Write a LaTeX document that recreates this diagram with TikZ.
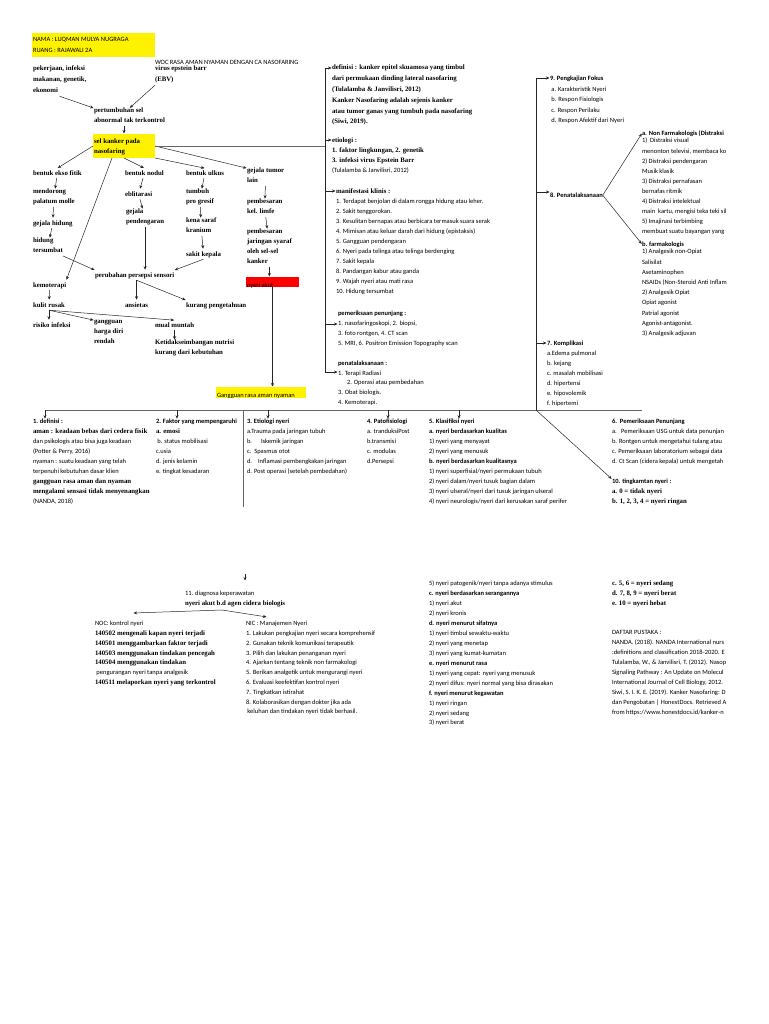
\documentclass[tikz,border=0pt]{standalone}
\usepackage{fontspec}
\setmainfont{Carlito}
\newfontfamily\bsf{Liberation Serif}
\usetikzlibrary{arrows.meta}
\newcommand\bsr[1]{{\bsf\bfseries\fontsize{6.8}{10}\selectfont #1}}
\begin{document}
\begin{tikzpicture}[x=1pt,y=-1pt,
  t/.style={anchor=north west,inner sep=0pt,outer sep=0pt,align=left,yshift=1.8pt,
            font=\fontsize{6.5}{10}\selectfont,execute at begin node=\strut},
  tb/.style={t,font=\fontsize{6.5}{10}\selectfont\bfseries},
  sb/.style={t,font=\bsf\bfseries\fontsize{6.8}{10}\selectfont},
  box/.style={anchor=north west,inner sep=0pt,outer sep=0pt},
  ar/.style={-{Stealth[length=3.5pt,width=3pt]},line width=0.5pt,black!85,shorten >=0.5pt},
  ln/.style={line width=0.8pt,black!85},
  lt/.style={line width=0.5pt,black!60}
]
\fill[white] (0,0) rectangle (768,1024);
\useasboundingbox (0,0) rectangle (768,1024);

% ---------------- header ----------------
\fill[yellow] (32,33) rectangle (155,57);
\node[t,font=\fontsize{6.5}{11}\selectfont] (nama) at (33,39) {NAMA : LUQMAN MULYA NUGRAGA\\RUANG : RAJAWALI 2A};
\node[t] (judul) at (155,59) {WOC RASA AMAN NYAMAN DENGAN CA NASOFARING};
\node[sb,font=\bsf\bfseries\fontsize{6.8}{11}\selectfont] (pek) at (33,68) {pekerjaan, infeksi\\makanan, genetik,\\ekonomi};
\node[sb,font=\bsf\bfseries\fontsize{6.8}{11}\selectfont] (ebv) at (155,68) {virus epstein barr\\(EBV)};
\node[sb] (pert) at (94,110) {pertumbuhan sel\\abnormal tak terkontrol};
\node[box,fill=yellow,minimum width=62pt,minimum height=24pt] (kanker) at (93,134) {};
\node[sb] (kankert) at (94,141) {sel kanker pada\\nasofaring};

\draw[ar] (pek.south) -- (pert.north west);
\draw[ar] (ebv.south west) -- (pert.north);
\draw[ar] (pert.south -| kanker.north) -- (kanker.north);

% ---------------- left cluster ----------------
\node[sb] (ekso) at (33,170) {bentuk ekso fitik};
\node[sb] (nodul) at (125,170) {bentuk nodul};
\node[sb] (ulkus) at (186,170) {bentuk ulkus};
\node[sb] (gtumor) at (247,170) {gejala tumor\\lain};
\node[sb] (mendorong) at (33,191) {mendorong\\palatum molle};
\node[sb] (ghid) at (33,220) {gejala hidung};
\node[sb] (htersumbat) at (33,240) {hidung\\tersumbat};
\node[sb] (ebli) at (125,191) {eblitarasi};
\node[sb] (gpend) at (126,211) {gejala\\pendengaran};
\node[sb] (tumbuh) at (186,191) {tumbuh\\pro gresif};
\node[sb] (kena) at (186,220) {kena saraf\\kranium};
\node[sb] (sakit) at (186,251) {sakit kepala};
\node[sb] (pkel) at (247,201) {pembesaran\\kel. limfe};
\node[sb] (pjar) at (247,231) {pembesaran\\jaringan syaraf\\oleh sel-sel\\kanker};
\node[box,fill=red,minimum width=53pt,minimum height=10pt] (nyeri) at (246,277) {};
\node[t] (nyerit) at (247,282) {nyeri akut};
\node[sb] (perubahan) at (95,272) {perubahan persepsi sensori};
\node[sb] (kemo) at (33,282) {kemoterapi};
\node[sb] (kulit) at (33,302) {kulit rusak};
\node[sb] (ansietas) at (125,302) {ansietas};
\node[sb] (kurang) at (186,302) {kurang pengetahuan};
\node[sb] (risiko) at (33,322) {risiko infeksi};
\node[sb] (harga) at (94,322) {gangguan\\harga diri\\rendah};
\node[sb] (mual) at (155,322) {mual muntah};
\node[sb] (ketidak) at (155,342) {Ketidakseimbangan nutrisi\\kurang dari kebutuhan};
\node[box,fill=yellow,minimum width=90pt,minimum height=10.5pt] (gang) at (216,387) {};
\node[t] (gangt) at (217,392) {Gangguan rasa aman nyaman};

\draw[ar] (kanker.west) -- (ekso.north);
\draw[ar] (kanker.south) -- (nodul.north);
\draw[ar] (kanker.south east) -- (ulkus.north);
\draw[ar] (kanker.east) -- (gtumor.north west);
\draw[ar] (kanker.-135) -- (kemo.north east);
\draw[ar] (ekso) -- (mendorong);
\draw[ar] (mendorong) -- (ghid);
\draw[ar] (ghid) -- (htersumbat);
\draw[ar] (htersumbat.south east) -- (perubahan.north west);
\draw[ar] (nodul) -- (ebli);
\draw[ar] (ebli) -- (gpend);
\draw[ar] (gpend.south) -- (gpend.south |- perubahan.north);
\draw[ar] (ulkus) -- (tumbuh);
\draw[ar] (tumbuh) -- (kena);
\draw[ar] (kena) -- (sakit);
\draw[ar] (sakit.south) -- (perubahan.north east);
\draw[ar] (gtumor) -- (pkel);
\draw[ar] (pkel) -- (pjar);
\draw[ar] (pjar.south) -- (pjar.south |- nyeri.north);
\draw[ar,line width=0.8pt] (nyeri.south) -- (nyeri.south |- gang.north);
\draw[ar] (perubahan.south -| ansietas.north) -- (ansietas.north);
\draw[ar] (perubahan.south -| ansietas.north) -- (kurang.north west);
\draw[ar] (kemo) -- (kulit);
\draw[ar] (kulit.south) -- (kulit.south |- risiko.north);
\draw[ar] (kulit.south) -- (harga.north west);
\draw[ar] (kulit.south) -- (mual.north);
\draw[ar] (mual.south) -- (mual.south |- ketidak.north);

% ---------------- centre bracket ----------------
\node[sb,font=\bsf\bfseries\fontsize{6.8}{10.8}\selectfont] (defn) at (332,67)
 {definisi : kanker epitel skuamosa yang timbul\\dari permukaan dinding lateral nasofaring\\(Tulalamba \& Janvilisri, 2012)\\Kanker Nasofaring adalah sejenis kanker\\atau tumor ganas yang tumbuh pada nasofaring\\(Siwi, 2019).};
\node[sb] (etio) at (332,140) {etiologi :\\1. faktor lingkungan, 2. genetik\\3. infeksi virus Epstein Barr\\{\normalfont\mdseries\fontspec{Carlito}\fontsize{6.5}{10}\selectfont (Tulalamba \& Janvilisri, 2012)}};
\node[t] (mani) at (336,191) {\bsr{manifestasi klinis :}\\1. Terdapat benjolan di dalam rongga hidung atau leher.\\2. Sakit tenggorokan.\\3. Kesulitan bernapas atau berbicara termasuk suara serak\\4. Mimisan atau keluar darah dari hidung (epistaksis)\\5. Gangguan pendengaran\\6. Nyeri pada telinga atau telinga berdenging\\7. Sakit kepala\\8. Pandangan kabur atau ganda\\9. Wajah nyeri atau mati rasa\\10. Hidung tersumbat};
\node[t] (pem) at (338,313) {\textbf{pemeriksaan penunjang :}\\1. nasofaringoskopi, 2. biopsi,\\3. foto rontgen, 4. CT scan\\5. MRI, 6. Positron Emission Topography scan};
\node[t,font=\fontsize{6.5}{9.6}\selectfont] (pen) at (338,363) {\textbf{penatalaksanaan :}\\1. Terapi Radiasi\\\hspace{9pt}2. Operasi atau pembedahan\\3. Obat biologis.\\4. Kemoterapi.};

\coordinate (bt) at (325,68);
\coordinate (be) at (325,140);
\coordinate (kj) at (325,146);
\coordinate (bm) at (325,191);
\coordinate (bp) at (325,324);
\coordinate (bb) at (325,372);
\draw[ln] (bt) -- (bb);
\draw[lt,line width=0.7pt] (kanker.east) -- (kj);
\draw[ar] (bt) -- (bt -| defn.west);
\draw[ar] (be) -- (be -| etio.west);
\draw[ar] (bm) -- (bm -| mani.west);
\draw[ar] (bp) -- (bp -| pem.west);
\draw[ar] (bb) -- (bb -| pen.west);

% ---------------- right bracket ----------------
\node[t,font=\fontsize{6.5}{10.5}\selectfont] (pk) at (550,78) {\textbf{9. Pengkajian Fokus}\\\ a. Karakteristik Nyeri\\\ b. Respon Fisiologis\\\ c. Respon Perilaku\\\ d. Respon Afektif dari Nyeri};
\node[tb] (pt) at (550,192) {8. Penatalaksanaan};
\node[tb] (nfh) at (642,130) {a. Non Farmakologis (Distraksi};
\node[t,font=\fontsize{6.5}{10.1}\selectfont] (nfl) at (642,140) {1)\ \ Distraksi visual\\menonton televisi, membaca ko\\2) Distraksi pendengaran\\Musik klasik\\3) Distraksi pernafasan\\bernafas ritmik\\4) Distraksi intelektual\\main\ \ kartu, mengisi teka teki sil\\5) Imajinasi terbimbing\\membuat suatu bayangan yang};
\node[tb] (fh) at (642,241) {b. farmakologis};
\node[t,font=\fontsize{6.5}{10.2}\selectfont] (fl) at (642,251) {1) Analgesik non-Opiat\\Salisilat\\Asetaminophen\\NSAIDs (Non-Steroid Anti Inflam\\2) Analgesik Opiat\\Opiat agonist\\Patrial agonist\\Agonist-antagonist.\\3) Analgesik adjuvan};
\node[t] (kom) at (547,343) {\textbf{7. Komplikasi}\\a.Edema pulmonal\\b. kejang\\c. masalah mobilisasi\\d. hipertensi\\e. hipovolemik\\f. hipertemi};

\coordinate (rt) at (536,78);
\coordinate (r8) at (536,192);
\coordinate (r7) at (536,343);
\coordinate (rb) at (536,410);
\draw[ln] (rt) -- (rb);
\draw[ar] (rt) -- (rt -| pk.west);
\draw[ar] (r8) -- (r8 -| pt.west);
\draw[ar] (r7) -- (r7 -| kom.west);
\draw[ar] (pt.east) -- (nfh.west);
\draw[ar] (pt.east) -- (fh.west);

% ---------------- bottom row ----------------
\coordinate (bl) at (45,410);
\coordinate (br) at (642,410);
\draw[lt,line width=0.7pt] (bl) -- (br);
\draw[lt,line width=0.7pt] (243,410) -- (243,507);

\node[t] (def1) at (33,421) {\textbf{1. definisi :}\\\bsr{aman : keadaan bebas dari cedera fisik}\\dan psikologis atau bisa juga keadaan\\(Potter \& Perry, 2016)\\nyaman : suatu keadaan yang telah\\terpenuhi kebutuhan dasar klien\\\bsr{gangguan rasa aman dan nyaman}\\\bsr{mengalami sensasi tidak menyenangkan}\\(NANDA, 2018)};
\node[t] (fak) at (156,421) {\textbf{2. Faktor yang mempengaruhi}\\\bsr{a. emosi}\\\ b. status mobilisasi\\c.usia\\d. jenis kelamin\\e. tingkat kesadaran};
\node[t] (eti) at (247,421) {\textbf{3. Etiologi nyeri}\\a.Trauma pada jaringan tubuh\\b.\hspace{9pt}Iskemik jaringan\\c.\ \ Spasmus otot\\d.\hspace{6pt}Inflamasi pembengkakan jaringan\\d. Post operasi (setelah pembedahan)};
\node[t] (pato) at (367,421) {\textbf{4. Patofisiologi}\\a. tranduksiPost\\b.transmisi\\c. modulas\\d.Persepsi};
\node[t] (klas) at (429,421) {\textbf{5. Klasifiksi nyeri}\\\textbf{a. nyeri berdasarkan kualitas}\\1) nyeri yang menyayat\\2) nyeri yang menusuk\\\textbf{b. nyeri berdasarkan kualitasnya}\\1) nyeri superfisial/nyeri permukaan tubuh\\2) nyeri dalam/nyeri tusuk bagian dalam\\3) nyeri ulseral/nyeri dari tusuk jaringan ulseral\\4) nyeri neurologis/nyeri dari kerusakan saraf perifer};
\node[t] (pemp) at (612,421) {\textbf{6.\ \ Pemeriksaan Penunjang}\\a.\ \ \ Pemeriksaan USG untuk data penunjan\\b. Rontgen untuk mengetahui tulang atau\\c. Pemeriksaan laboratorium sebagai data\\d. Ct Scan (cidera kepala) untuk mengetah};
\node[t] (ting) at (612,481) {\textbf{10. tingkamtan nyeri :}\\\bsr{a. 0 = tidak nyeri}\\\bsr{b. 1, 2, 3, 4 = nyeri ringan}};

\coordinate (d1) at (45,410);
\coordinate (d2) at (177,410);
\coordinate (d3) at (268,410);
\coordinate (d4) at (388,410);
\coordinate (d5) at (459,410);
\draw[ar] (d1) -- (d1 |- def1.north);
\draw[ar] (d2) -- (d2 |- fak.north);
\draw[ar] (d3) -- (d3 |- eti.north);
\draw[ar] (d4) -- (d4 |- pato.north);
\draw[ar] (d5) -- (d5 |- klas.north);
\draw[ar] (rb) -- (ting.north west);

% ---------------- lower part ----------------
\coordinate (s1) at (245,574);
\coordinate (s2) at (245,581);
\draw[ar] (s1) -- (s2);
\node[t] (diag) at (185,593) {11. diagnosa keperawatan\\\bsr{nyeri akut b.d agen cidera biologis}};
\node[t,font=\fontsize{6.5}{9.8}\selectfont] (noc) at (95,623) {NOC: kontrol nyeri\\\bsr{140502 mengenali kapan nyeri terjadi}\\\bsr{140501 menggambarkan faktor terjadi}\\\bsr{140503 menggunakan tindakan pencegah}\\\bsr{140504 menggunakan tindakan}\\\ pengurangan nyeri tanpa analgesik\\\bsr{140511 melaporkan nyeri yang terkontrol}};
\node[t,font=\fontsize{6.5}{9.8}\selectfont] (nic) at (246,623) {NIC : Manajemen Nyeri\\1. Lakukan pengkajian nyeri secara komprehensif\\2. Gunakan teknik komunikasi terapeutik\\3. Pilih dan lakukan penanganan nyeri\\4. Ajarkan tentang teknik non farmakologi\\5. Berikan analgetik untuk mengurangi nyeri\\6. Evaluasi keefektifan kontrol nyeri\\7. Tingkatkan istirahat\\8. Kolaborasikan dengan dokter jika ada\\\ keluhan dan tindakan nyeri tidak berhasil.};
\coordinate (dg) at (222,610);
\coordinate (na) at (133,613);
\coordinate (nb) at (267,617);
\draw[ar] (dg) -- (na);
\draw[ar] (dg) -- (nb);

\node[t,font=\fontsize{6.5}{9.93}\selectfont] (klas2) at (429,583) {5) nyeri patogenik/nyeri tanpa adanya stimulus\\\textbf{c. nyeri berdasarkan serangannya}\\1) nyeri akut\\2) nyeri kronis\\\textbf{d. nyeri menurut sifatnya}\\1) nyeri timbul sewaktu-waktu\\2) nyeri yang menetap\\3) nyeri yang kumat-kumatan\\\textbf{e. nyeri menurut rasa}\\1) nyeri yang cepat: nyeri yang menusuk\\2) nyeri difus: nyeri normal yang bisa dirasakan\\\textbf{f. nyeri menurut kegawatan}\\1) nyeri ringan\\2) nyeri sedang\\3) nyeri berat};
\node[sb] (ting2) at (612,583) {c. 5, 6 = nyeri sedang\\d. 7, 8, 9 = nyeri berat\\e. 10 = nyeri hebat};
\node[t] (pustaka) at (612,632) {DAFTAR PUSTAKA :\\NANDA. (2018). NANDA International nurs\\:definitions and classification 2018-2020. E\\Tulalamba, W., \& Janvilisri, T. (2012). Nasop\\Signaling Pathway : An Update on Molecul\\International Journal of Cell Biology, 2012.\\Siwi, S. I. K. E. (2019). Kanker Nasofaring: D\\dan Pengobatan | HonestDocs. Retrieved A\\from https://www.honestdocs.id/kanker-n};
\end{tikzpicture}
\end{document}
